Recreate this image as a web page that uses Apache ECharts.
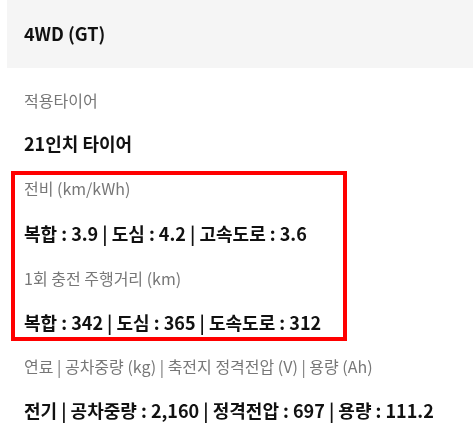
<!DOCTYPE html>
<html><head><meta charset="utf-8">
<script src="https://cdn.jsdelivr.net/npm/echarts@6/dist/echarts.min.js"></script>
<style>html,body{margin:0;padding:0;background:#fff}#c{width:473px;height:441px}</style>
</head><body><div id="c"></div>
<script>
const title = "4WD (GT)";
const labels = ["적용타이어", "전비 (km/kWh)", "1회 충전 주행거리 (km)", "연료 | 공차중량 (kg) | 축전지 정격전압 (V) | 용량 (Ah)"];
const values = ["21인치 타이어", "복합 : 3.9 | 도심 : 4.2 | 고속도로 : 3.6", "복합 : 342 | 도심 : 365 | 도속도로 : 312", "전기 | 공차중량 : 2,160 | 정격전압 : 697 | 용량 : 111.2"];
const labelY = [101, 189, 279, 367];
const valueY = [144, 234, 323, 411];
const font = '"Noto Sans CJK KR", "Noto Sans", sans-serif';
const g = [
  {type:'rect', shape:{x:7,y:0,width:466,height:68}, style:{fill:'#f5f5f5'}},
  {type:'text', x:24, y:34, style:{text:title, font:'bold 18px '+font, fill:'#111', textVerticalAlign:'middle'}}
];
labels.forEach((t,i)=>g.push({type:'text', x:24, y:labelY[i], style:{text:t, font:'16px '+font, fill:'#777', textVerticalAlign:'middle'}}));
values.forEach((t,i)=>g.push({type:'text', x:24, y:valueY[i], style:{text:t, font:'bold 18px '+font, fill:'#111', textVerticalAlign:'middle'}}));
g.push({type:'rect', shape:{x:13,y:173,width:332,height:166}, style:{fill:'none', stroke:'#ff0000', lineWidth:4}});
const chart = echarts.init(document.getElementById('c'));
chart.setOption({animation:false, graphic:g});
</script></body></html>
